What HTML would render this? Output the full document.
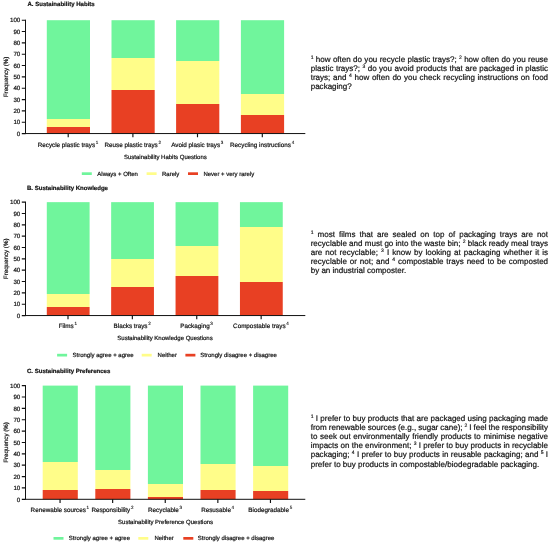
<!DOCTYPE html>
<html><head><meta charset="utf-8"><title>Sustainability figure</title>
<style>
html,body{margin:0;padding:0;background:#fff;}
body{width:550px;height:544px;position:relative;overflow:hidden;font-family:"Liberation Sans",Arial,Helvetica,sans-serif;color:#111;}
svg{position:absolute;left:0;top:0;}
svg text{font-family:"Liberation Sans",Arial,Helvetica,sans-serif;font-size:6px;fill:#111;stroke:#111;stroke-width:0.2px;text-rendering:geometricPrecision;}
.p{position:absolute;left:310.7px;width:237.4px;font-size:8.04px;line-height:9.23px;-webkit-text-stroke:0.2px #111;text-rendering:geometricPrecision;}
.l{height:9.23px;white-space:nowrap;}
.l span{display:inline-block;white-space:nowrap;}
sup{font-size:5px;line-height:0;vertical-align:baseline;position:relative;top:-3.0px;-webkit-text-stroke:0.15px #111;}
</style></head><body>
<svg width="550" height="544" viewBox="0 0 550 544">
<text x="27.5" y="6.1" font-weight="bold" style="font-size:6.05px">A. Sustainability Habits</text>
<linearGradient id="gA68" x1="0" y1="0" x2="0" y2="1"><stop offset="0" stop-color="#70f59c"/><stop offset="0.8700" stop-color="#70f59c"/><stop offset="0.8700" stop-color="#fffd89"/><stop offset="0.9430" stop-color="#fffd89"/><stop offset="0.9430" stop-color="#e84023"/><stop offset="1" stop-color="#e84023"/></linearGradient>
<rect x="46.80" y="20.20" width="43.2" height="113.35" fill="url(#gA68)"/>
<linearGradient id="gA133" x1="0" y1="0" x2="0" y2="1"><stop offset="0" stop-color="#70f59c"/><stop offset="0.3370" stop-color="#70f59c"/><stop offset="0.3370" stop-color="#fffd89"/><stop offset="0.6130" stop-color="#fffd89"/><stop offset="0.6130" stop-color="#e84023"/><stop offset="1" stop-color="#e84023"/></linearGradient>
<rect x="111.50" y="20.20" width="43.2" height="113.35" fill="url(#gA133)"/>
<linearGradient id="gA197" x1="0" y1="0" x2="0" y2="1"><stop offset="0" stop-color="#70f59c"/><stop offset="0.3570" stop-color="#70f59c"/><stop offset="0.3570" stop-color="#fffd89"/><stop offset="0.7420" stop-color="#fffd89"/><stop offset="0.7420" stop-color="#e84023"/><stop offset="1" stop-color="#e84023"/></linearGradient>
<rect x="176.10" y="20.20" width="43.2" height="113.35" fill="url(#gA197)"/>
<linearGradient id="gA262" x1="0" y1="0" x2="0" y2="1"><stop offset="0" stop-color="#70f59c"/><stop offset="0.6500" stop-color="#70f59c"/><stop offset="0.6500" stop-color="#fffd89"/><stop offset="0.8360" stop-color="#fffd89"/><stop offset="0.8360" stop-color="#e84023"/><stop offset="1" stop-color="#e84023"/></linearGradient>
<rect x="240.90" y="20.20" width="43.2" height="113.35" fill="url(#gA262)"/>
<path d="M25.5 19.70V133.55M25 133.55H305.3" stroke="#111" stroke-width="1" fill="none"/>
<text x="20.3" y="135.75" text-anchor="end" style="font-size:6.2px">0</text>
<text x="20.3" y="124.42" text-anchor="end" style="font-size:6.2px">10</text>
<text x="20.3" y="113.08" text-anchor="end" style="font-size:6.2px">20</text>
<text x="20.3" y="101.75" text-anchor="end" style="font-size:6.2px">30</text>
<text x="20.3" y="90.41" text-anchor="end" style="font-size:6.2px">40</text>
<text x="20.3" y="79.08" text-anchor="end" style="font-size:6.2px">50</text>
<text x="20.3" y="67.74" text-anchor="end" style="font-size:6.2px">60</text>
<text x="20.3" y="56.41" text-anchor="end" style="font-size:6.2px">70</text>
<text x="20.3" y="45.07" text-anchor="end" style="font-size:6.2px">80</text>
<text x="20.3" y="33.73" text-anchor="end" style="font-size:6.2px">90</text>
<text x="20.3" y="22.40" text-anchor="end" style="font-size:6.2px">100</text>
<path d="M21.8 133.55H25.5M21.8 122.22H25.5M21.8 110.88H25.5M21.8 99.55H25.5M21.8 88.21H25.5M21.8 76.88H25.5M21.8 65.54H25.5M21.8 54.20H25.5M21.8 42.87H25.5M21.8 31.53H25.5M21.8 20.20H25.5M68.20 133.55V137.35M132.90 133.55V137.35M197.50 133.55V137.35M262.30 133.55V137.35" stroke="#111" stroke-width="1.15" fill="none"/>
<text transform="translate(7.7 76.88) rotate(-90)" text-anchor="middle" style="font-size:6.2px">Frequency (%)</text>
<text x="68.00" y="146.5" text-anchor="middle" style="font-size:6.3px">Recycle plastic trays<tspan dx="0.7" dy="-2.6" font-size="4.5" stroke-width="0.12">1</tspan></text>
<text x="132.70" y="146.5" text-anchor="middle" style="font-size:6.3px">Reuse plastic trays<tspan dx="0.7" dy="-2.6" font-size="4.5" stroke-width="0.12">2</tspan></text>
<text x="197.30" y="146.5" text-anchor="middle" style="font-size:6.3px">Avoid plasic trays<tspan dx="0.7" dy="-2.6" font-size="4.5" stroke-width="0.12">3</tspan></text>
<text x="262.10" y="146.5" text-anchor="middle" style="font-size:6.3px">Recycling instructions<tspan dx="0.7" dy="-2.6" font-size="4.5" stroke-width="0.12">4</tspan></text>
<text x="165.4" y="159.1" text-anchor="middle">Sustainability Habits Questions</text>
<rect x="81.8" y="172.3" width="10" height="2.7" fill="#70f59c"/>
<text x="97.3" y="175.7">Always + Often</text>
<rect x="146.6" y="172.3" width="10" height="2.7" fill="#fffd89"/>
<text x="162" y="175.7">Rarely</text>
<rect x="188" y="172.3" width="10" height="2.7" fill="#e84023"/>
<text x="203.4" y="175.7">Never + very rarely</text>
<text x="27.0" y="189.7" font-weight="bold" style="font-size:6.05px">B. Sustainability Knowledge</text>
<linearGradient id="gB68" x1="0" y1="0" x2="0" y2="1"><stop offset="0" stop-color="#70f59c"/><stop offset="0.8110" stop-color="#70f59c"/><stop offset="0.8110" stop-color="#fffd89"/><stop offset="0.9220" stop-color="#fffd89"/><stop offset="0.9220" stop-color="#e84023"/><stop offset="1" stop-color="#e84023"/></linearGradient>
<rect x="46.80" y="202.15" width="42.8" height="113.40" fill="url(#gB68)"/>
<linearGradient id="gB132" x1="0" y1="0" x2="0" y2="1"><stop offset="0" stop-color="#70f59c"/><stop offset="0.5040" stop-color="#70f59c"/><stop offset="0.5040" stop-color="#fffd89"/><stop offset="0.7440" stop-color="#fffd89"/><stop offset="0.7440" stop-color="#e84023"/><stop offset="1" stop-color="#e84023"/></linearGradient>
<rect x="111.15" y="202.15" width="42.8" height="113.40" fill="url(#gB132)"/>
<linearGradient id="gB196" x1="0" y1="0" x2="0" y2="1"><stop offset="0" stop-color="#70f59c"/><stop offset="0.3860" stop-color="#70f59c"/><stop offset="0.3860" stop-color="#fffd89"/><stop offset="0.6520" stop-color="#fffd89"/><stop offset="0.6520" stop-color="#e84023"/><stop offset="1" stop-color="#e84023"/></linearGradient>
<rect x="175.55" y="202.15" width="42.8" height="113.40" fill="url(#gB196)"/>
<linearGradient id="gB261" x1="0" y1="0" x2="0" y2="1"><stop offset="0" stop-color="#70f59c"/><stop offset="0.2190" stop-color="#70f59c"/><stop offset="0.2190" stop-color="#fffd89"/><stop offset="0.7020" stop-color="#fffd89"/><stop offset="0.7020" stop-color="#e84023"/><stop offset="1" stop-color="#e84023"/></linearGradient>
<rect x="239.95" y="202.15" width="42.8" height="113.40" fill="url(#gB261)"/>
<path d="M25.5 201.65V315.55M25 315.55H305.3" stroke="#111" stroke-width="1" fill="none"/>
<text x="20.3" y="317.75" text-anchor="end" style="font-size:6.2px">0</text>
<text x="20.3" y="306.41" text-anchor="end" style="font-size:6.2px">10</text>
<text x="20.3" y="295.07" text-anchor="end" style="font-size:6.2px">20</text>
<text x="20.3" y="283.73" text-anchor="end" style="font-size:6.2px">30</text>
<text x="20.3" y="272.39" text-anchor="end" style="font-size:6.2px">40</text>
<text x="20.3" y="261.05" text-anchor="end" style="font-size:6.2px">50</text>
<text x="20.3" y="249.71" text-anchor="end" style="font-size:6.2px">60</text>
<text x="20.3" y="238.37" text-anchor="end" style="font-size:6.2px">70</text>
<text x="20.3" y="227.03" text-anchor="end" style="font-size:6.2px">80</text>
<text x="20.3" y="215.69" text-anchor="end" style="font-size:6.2px">90</text>
<text x="20.3" y="204.35" text-anchor="end" style="font-size:6.2px">100</text>
<path d="M21.8 315.55H25.5M21.8 304.21H25.5M21.8 292.87H25.5M21.8 281.53H25.5M21.8 270.19H25.5M21.8 258.85H25.5M21.8 247.51H25.5M21.8 236.17H25.5M21.8 224.83H25.5M21.8 213.49H25.5M21.8 202.15H25.5M68.00 315.55V319.35M132.35 315.55V319.35M196.75 315.55V319.35M261.15 315.55V319.35" stroke="#111" stroke-width="1.15" fill="none"/>
<text transform="translate(7.7 258.85) rotate(-90)" text-anchor="middle" style="font-size:6.2px">Frequency (%)</text>
<text x="67.80" y="327.9" text-anchor="middle" style="font-size:6.3px">Films<tspan dx="0.7" dy="-2.6" font-size="4.5" stroke-width="0.12">1</tspan></text>
<text x="132.15" y="327.9" text-anchor="middle" style="font-size:6.3px">Blacks trays<tspan dx="0.7" dy="-2.6" font-size="4.5" stroke-width="0.12">2</tspan></text>
<text x="196.55" y="327.9" text-anchor="middle" style="font-size:6.3px">Packaging<tspan dx="0.7" dy="-2.6" font-size="4.5" stroke-width="0.12">3</tspan></text>
<text x="260.95" y="327.9" text-anchor="middle" style="font-size:6.3px">Compostable trays<tspan dx="0.7" dy="-2.6" font-size="4.5" stroke-width="0.12">4</tspan></text>
<text x="165.0" y="340.1" text-anchor="middle">Sustainability Knowledge Questions</text>
<rect x="57.1" y="353.8" width="10" height="2.7" fill="#70f59c"/>
<text x="72.5" y="357.1">Strongly agree + agree</text>
<rect x="141.7" y="353.8" width="10" height="2.7" fill="#fffd89"/>
<text x="157.6" y="357.1">Neither</text>
<rect x="185.4" y="353.8" width="10" height="2.7" fill="#e84023"/>
<text x="200.3" y="357.1">Strongly disagree + disagree</text>
<text x="27.0" y="372.6" font-weight="bold" style="font-size:6.05px">C. Sustainability Preferences</text>
<linearGradient id="gC60" x1="0" y1="0" x2="0" y2="1"><stop offset="0" stop-color="#70f59c"/><stop offset="0.6720" stop-color="#70f59c"/><stop offset="0.6720" stop-color="#fffd89"/><stop offset="0.9210" stop-color="#fffd89"/><stop offset="0.9210" stop-color="#e84023"/><stop offset="1" stop-color="#e84023"/></linearGradient>
<rect x="42.70" y="385.60" width="35.1" height="113.70" fill="url(#gC60)"/>
<linearGradient id="gC112" x1="0" y1="0" x2="0" y2="1"><stop offset="0" stop-color="#70f59c"/><stop offset="0.7440" stop-color="#70f59c"/><stop offset="0.7440" stop-color="#fffd89"/><stop offset="0.9090" stop-color="#fffd89"/><stop offset="0.9090" stop-color="#e84023"/><stop offset="1" stop-color="#e84023"/></linearGradient>
<rect x="95.30" y="385.60" width="35.1" height="113.70" fill="url(#gC112)"/>
<linearGradient id="gC165" x1="0" y1="0" x2="0" y2="1"><stop offset="0" stop-color="#70f59c"/><stop offset="0.8690" stop-color="#70f59c"/><stop offset="0.8690" stop-color="#fffd89"/><stop offset="0.9820" stop-color="#fffd89"/><stop offset="0.9820" stop-color="#e84023"/><stop offset="1" stop-color="#e84023"/></linearGradient>
<rect x="147.90" y="385.60" width="35.1" height="113.70" fill="url(#gC165)"/>
<linearGradient id="gC218" x1="0" y1="0" x2="0" y2="1"><stop offset="0" stop-color="#70f59c"/><stop offset="0.6870" stop-color="#70f59c"/><stop offset="0.6870" stop-color="#fffd89"/><stop offset="0.9160" stop-color="#fffd89"/><stop offset="0.9160" stop-color="#e84023"/><stop offset="1" stop-color="#e84023"/></linearGradient>
<rect x="200.50" y="385.60" width="35.1" height="113.70" fill="url(#gC218)"/>
<linearGradient id="gC270" x1="0" y1="0" x2="0" y2="1"><stop offset="0" stop-color="#70f59c"/><stop offset="0.7110" stop-color="#70f59c"/><stop offset="0.7110" stop-color="#fffd89"/><stop offset="0.9280" stop-color="#fffd89"/><stop offset="0.9280" stop-color="#e84023"/><stop offset="1" stop-color="#e84023"/></linearGradient>
<rect x="253.10" y="385.60" width="35.1" height="113.70" fill="url(#gC270)"/>
<path d="M25.5 385.10V499.30M25 499.30H305.3" stroke="#111" stroke-width="1" fill="none"/>
<text x="20.3" y="501.50" text-anchor="end" style="font-size:6.2px">0</text>
<text x="20.3" y="490.13" text-anchor="end" style="font-size:6.2px">10</text>
<text x="20.3" y="478.76" text-anchor="end" style="font-size:6.2px">20</text>
<text x="20.3" y="467.39" text-anchor="end" style="font-size:6.2px">30</text>
<text x="20.3" y="456.02" text-anchor="end" style="font-size:6.2px">40</text>
<text x="20.3" y="444.65" text-anchor="end" style="font-size:6.2px">50</text>
<text x="20.3" y="433.28" text-anchor="end" style="font-size:6.2px">60</text>
<text x="20.3" y="421.91" text-anchor="end" style="font-size:6.2px">70</text>
<text x="20.3" y="410.54" text-anchor="end" style="font-size:6.2px">80</text>
<text x="20.3" y="399.17" text-anchor="end" style="font-size:6.2px">90</text>
<text x="20.3" y="387.80" text-anchor="end" style="font-size:6.2px">100</text>
<path d="M21.8 499.30H25.5M21.8 487.93H25.5M21.8 476.56H25.5M21.8 465.19H25.5M21.8 453.82H25.5M21.8 442.45H25.5M21.8 431.08H25.5M21.8 419.71H25.5M21.8 408.34H25.5M21.8 396.97H25.5M21.8 385.60H25.5M60.05 499.30V503.10M112.65 499.30V503.10M165.25 499.30V503.10M217.85 499.30V503.10M270.45 499.30V503.10" stroke="#111" stroke-width="1.15" fill="none"/>
<text transform="translate(7.7 442.45) rotate(-90)" text-anchor="middle" style="font-size:6.2px">Frequency (%)</text>
<text x="59.85" y="512" text-anchor="middle" style="font-size:6.3px">Renewable sources<tspan dx="0.7" dy="-2.6" font-size="4.5" stroke-width="0.12">1</tspan></text>
<text x="112.45" y="512" text-anchor="middle" style="font-size:6.3px">Responsibility<tspan dx="0.7" dy="-2.6" font-size="4.5" stroke-width="0.12">2</tspan></text>
<text x="165.05" y="512" text-anchor="middle" style="font-size:6.3px">Recyclable<tspan dx="0.7" dy="-2.6" font-size="4.5" stroke-width="0.12">3</tspan></text>
<text x="217.65" y="512" text-anchor="middle" style="font-size:6.3px">Resusable<tspan dx="0.7" dy="-2.6" font-size="4.5" stroke-width="0.12">4</tspan></text>
<text x="270.25" y="512" text-anchor="middle" style="font-size:6.3px">Biodegradable<tspan dx="0.7" dy="-2.6" font-size="4.5" stroke-width="0.12">5</tspan></text>
<text x="165.6" y="524.3" text-anchor="middle">Sustainability Preference Questions</text>
<rect x="53.5" y="537" width="10" height="2.7" fill="#70f59c"/>
<text x="68.8" y="540.2">Strongly agree + agree</text>
<rect x="138.3" y="537" width="10" height="2.7" fill="#fffd89"/>
<text x="154.4" y="540.2">Neither</text>
<rect x="183.3" y="537" width="10" height="2.7" fill="#e84023"/>
<text x="197.8" y="540.2">Strongly disagree + disagree</text>
</svg>
<div class="p" style="top:54.57px">
<div class="l"><span id="l0_0" style="word-spacing:0.113px"><sup>1</sup> how often do you recycle plastic trays?; <sup>2</sup> how often do you reuse</span></div>
<div class="l"><span id="l0_1" style="word-spacing:0.222px">plastic trays?; <sup>3</sup> do you avoid products that are packaged in plastic</span></div>
<div class="l"><span id="l0_2" style="word-spacing:0.427px">trays; and <sup>4</sup> how often do you check recycling instructions on food</span></div>
<div class="l"><span id="l0_3" style="word-spacing:0.000px">packaging?</span></div>
</div>
<div class="p" style="top:229.57px">
<div class="l"><span id="l1_0" style="word-spacing:1.805px"><sup>1</sup> most films that are sealed on top of packaging trays are not</span></div>
<div class="l"><span id="l1_1" style="word-spacing:0.020px">recyclable and must go into the waste bin; <sup>2</sup> black ready meal trays</span></div>
<div class="l"><span id="l1_2" style="word-spacing:0.838px">are not recyclable; <sup>3</sup> I know by looking at packaging whether it is</span></div>
<div class="l"><span id="l1_3" style="word-spacing:0.646px">recyclable or not; and <sup>4</sup> compostable trays need to be composted</span></div>
<div class="l"><span id="l1_4" style="word-spacing:0.000px">by an industrial composter.</span></div>
</div>
<div class="p" style="top:413.57px">
<div class="l"><span id="l2_0" style="word-spacing:0.061px"><sup>1</sup> I prefer to buy products that are packaged using packaging made</span></div>
<div class="l"><span id="l2_1" style="word-spacing:-0.243px">from renewable sources (e.g., sugar cane); <sup>2</sup> I feel the responsibility</span></div>
<div class="l"><span id="l2_2" style="word-spacing:0.378px">to seek out environmentally friendly products to minimise negative</span></div>
<div class="l"><span id="l2_3" style="word-spacing:-0.019px">impacts on the environment; <sup>3</sup> I prefer to buy products in recyclable</span></div>
<div class="l"><span id="l2_4" style="word-spacing:0.084px">packaging; <sup>4</sup> I prefer to buy products in reusable packaging; and <sup>5</sup> I</span></div>
<div class="l"><span id="l2_5" style="word-spacing:0.000px">prefer to buy products in compostable/biodegradable packaging.</span></div>
</div>
</body></html>
